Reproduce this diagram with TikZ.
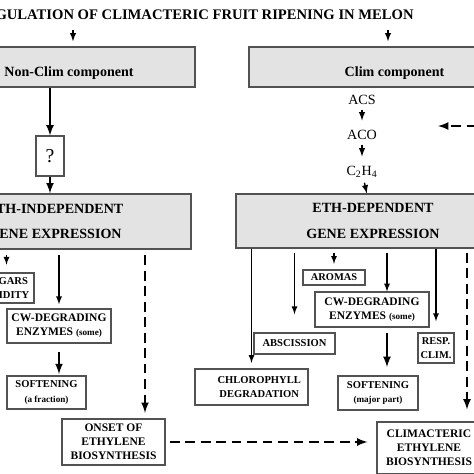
\documentclass[tikz,border=0pt]{standalone}
\usepackage{fontspec}
\setmainfont{Liberation Serif}
\usetikzlibrary{arrows,calc}
\colorlet{boxgray}{black!11}
\colorlet{edge}{black!68}

\tikzset{
  big/.style={draw=edge,fill=boxgray,line width=1pt,align=center,inner sep=0pt,
    font=\bfseries\fontsize{10}{18}\selectfont},
  small/.style={draw=edge,fill=white,line width=0.8pt,align=center,inner sep=0pt,
    font=\bfseries\fontsize{7.5}{10}\selectfont},
  sz/.style 2 args={minimum width=#1*0.025cm,minimum height=#2*0.025cm},
  arr/.style={-latex,line width=0.9pt},
  harr/.style={-latex,line width=1.5pt},
  darr/.style={-latex,line width=1.5pt,dash pattern=on 7pt off 4pt},
}
\newcommand{\smallpar}[1]{{\fontsize{6.5}{10}\selectfont #1}}

\begin{document}
\begin{tikzpicture}[x=0.025cm,y=-0.025cm]
\useasboundingbox (0,0) rectangle (474,474);
\clip (0,0) rectangle (474,474);

% header
\node[font=\bfseries\fontsize{10.4}{12}\selectfont,anchor=east,inner sep=0pt] (title) at (414,15)
  {REGULATION OF CLIMACTERIC FRUIT RIPENING IN MELON};
\node[big,sz={252}{40},text height=14pt,text depth=0pt] (nonclim) at (69,67) {Non-Clim component};
\node[big,sz={291}{40},text height=14pt,text depth=0pt] (clim) at (394.5,67) {Clim component};
\coordinate (inL) at (73,30);
\coordinate (inR) at (388,30);
\draw[arr,line width=1pt,shorten >=3.6pt] (inL) -- (inL |- nonclim.north);
\draw[arr,line width=1pt,shorten >=3.6pt] (inR) -- (inR |- clim.north);

% non-climacteric branch
\node[draw=edge,line width=0.8pt,sz={28}{40},inner sep=0pt,font=\fontsize{14}{16}\selectfont] (q) at (50,156) {?};
\draw[harr] (q.north |- nonclim.south) -- (q.north);
\node[big,sz={272}{55}] (indep) at (55,221.5) {ETH-INDEPENDENT\\GENE EXPRESSION};
\draw[harr] (q.south) -- (q.south |- indep.north);

\node[small,sz={55}{30}] (sugars) at (6.5,288) {SUGARS\\ACIDITY};
\draw[arr,shorten <=4pt,shorten >=5.5pt] (indep.south -| sugars.north) -- (sugars.north);
\node[small,sz={104}{34},font=\bfseries\fontsize{8.2}{10}\selectfont] (cwL) at (59,326) {CW-DEGRADING\\ENZYMES \smallpar{(some)}};
\draw[arr,shorten <=4pt,shorten >=3pt] (indep.south -| cwL.north) -- (cwL.north);
\node[small,sz={79}{33}] (softL) at (46.5,392.5) {SOFTENING\\\smallpar{(a fraction)}};
\draw[harr,shorten <=6pt,shorten >=1pt] (cwL.south) -- (cwL.south |- softL.north);

\coordinate (xL) at (145,0);
\node[small,sz={103}{46},font=\bfseries\fontsize{8.2}{10}\selectfont] (onset) at (113.5,442)
  {ONSET OF\\ETHYLENE\\BIOSYNTHESIS};
\draw[darr,shorten <=4pt,shorten >=4pt] (indep.south -| xL) -- (onset.north -| xL);

% climacteric branch
\node[font=\fontsize{10}{12}\selectfont] (acs) at (362,100) {ACS};
\node[font=\fontsize{10}{12}\selectfont] (aco) at (362,135) {ACO};
\node[font=\fontsize{10}{12}\selectfont] (ethy) at (362,172) {C\textsubscript{2}H\textsubscript{4}};
\node[big,sz={274}{54}] (dep) at (373,221) {ETH-DEPENDENT\\GENE EXPRESSION};
\draw[arr,line width=1pt,shorten >=3.5pt] (acs) -- (aco);
\draw[arr,line width=1pt,shorten >=3.5pt] (aco) -- (ethy);
\draw[arr,line width=1pt] (ethy) -- (dep);

\node[small,sz={113}{36}] (chl) at (251.5,387) {\hspace*{11pt}CHLOROPHYLL\\\hspace*{11pt}DEGRADATION};
\draw[arr,shorten >=4pt] (dep.south -| chl.north) -- (chl.north);
\node[small,sz={81}{21}] (absc) at (294.5,343.5) {ABSCISSION};
\draw[arr,shorten <=3pt,shorten >=13pt] (dep.south -| absc.north) -- (absc.north);
\node[small,sz={62}{15},font=\bfseries\fontsize{7.4}{8}\selectfont] (aromas) at (334,277.5) {AROMAS};
\draw[arr,shorten <=3pt,shorten >=4pt] (dep.south -| aromas.north) -- (aromas.north);
\coordinate (xS) at (387,0);
\node[small,sz={114}{35},font=\bfseries\fontsize{8.2}{10}\selectfont] (cwR) at (372,309.5) {CW-DEGRADING\\ENZYMES \smallpar{(some)}};
\draw[arr,shorten <=3pt] (dep.south -| xS) -- (cwR.north -| xS);
\node[small,sz={80}{34}] (softR) at (378,393) {SOFTENING\\\smallpar{(major part)}};
\draw[harr,shorten <=4pt,shorten >=6pt] (cwR.south -| xS) -- (softR.north -| xS);
\node[small,sz={36}{30},font=\bfseries\fontsize{7.4}{10}\selectfont] (resp) at (436,348) {RESP.\\CLIM.};
\draw[arr,shorten >=8pt] (dep.south -| resp.north) -- (resp.north);

% ethylene synthesis and feedback
\node[small,sz={104}{52},font=\bfseries\fontsize{8.2}{10}\selectfont] (climeth) at (429,448)
  {CLIMACTERIC\\ETHYLENE\\BIOSYNTHESIS};
\draw[darr,shorten <=3pt,shorten >=6.4pt] (onset.east) -- (onset.east -| climeth.west);
\coordinate (xR) at (467,0);
\draw[darr,shorten <=3pt,shorten >=8.5pt] (dep.south -| xR) -- (climeth.north -| xR);
\coordinate (fbA) at (492,126);
\coordinate (fbB) at (438,126);
\draw[darr] (fbA) -- (fbB);
\end{tikzpicture}
\end{document}
